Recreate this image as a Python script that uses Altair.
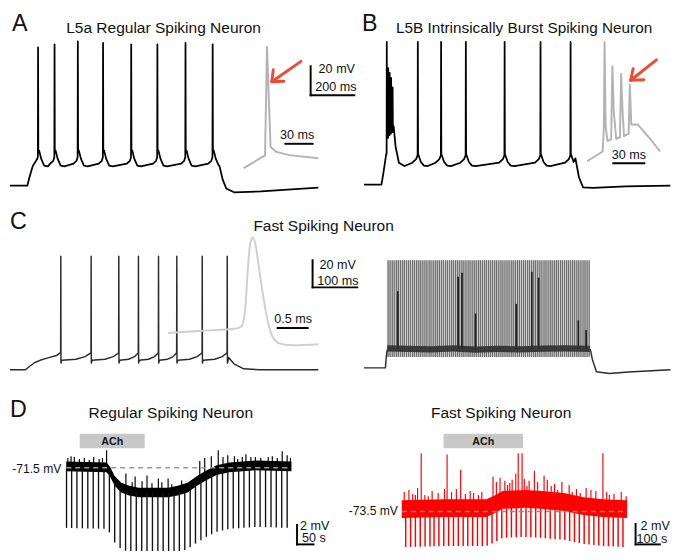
import numpy as np
import pandas as pd
import altair as alt

S = 0.97
FW, FH = 685, 560
W, H = FW * S, FH * S
FONT = "Liberation Sans"

# ================= DATA =================
# ---- A: L5a regular spiking neuron (ms, mV) ----
A_PRE_T = [0, 80, 90, 105, 124]
A_PRE_V = [-70.0, -70.0, -64.0, -56.5, -52.0]
A_SPK_T = [128.9, 204.4, 311.1, 426.7, 555.6, 675.6, 804.4, 928.9]
A_SPK_PEAK = [25.0, 27.0, 29.0, 28.0, 27.0, 27.0, 28.0, 27.0]
A_AFTER_DT = [1.2, 5, 14, 28, 45]
A_AFTER_V = [-47.5, -46.0, -51.5, -56.3, -56.8]
A_BEFORE_DT = [-20, -6, -1]
A_BEFORE_V = [-55.0, -53.0, -50.5]
A_OFF_T = [960, 975, 991, 1027, 1150, 1413]
A_OFF_V = [-56.5, -66.0, -72.0, -74.7, -74.0, -71.5]
A_INSET_T = [0, 22, 24, 27.7, 33.7, 47, 77]
A_INSET_V = [-58.0, -49.3, 25.3, -43.5, -46.9, -49.1, -51.3]

# ---- B: L5B intrinsically bursting neuron (ms, mV) ----
B_ONSET_T = [0, 80, 88, 96, 102]
B_ONSET_V = [-70.0, -70.0, -63.0, -55.0, -49.0]
B_BURST_T = [104.4, 111.1, 117.8, 124.4, 131.1]
B_BURST_PEAK = [28.0, 10.0, 6.7, 3.3, -3.3]
B_BURST_TROUGH = [-38.0, -36.0, -35.0, -34.0, -31.0]
B_POSTBURST_T = [136, 145, 160, 185]
B_POSTBURST_V = [-30.0, -44.0, -55.0, -57.3]
B_SPK_T = [246.7, 353.3, 466.7, 644.4, 808.9, 946.7]
B_SPK_PEAK = [28.0, 28.0, 28.0, 28.0, 28.0, 28.0]
B_AFTER_DT = [1.2, 5, 14, 28, 45]
B_AFTER_V = [-49.0, -50.5, -54.5, -57.0, -57.3]
B_BEFORE_DT = [-25, -8, -1]
B_BEFORE_V = [-55.0, -52.5, -50.0]
B_OFF_T = [968.9, 985, 1004, 1050, 1200, 1404]
B_OFF_V = [-52.0, -65.0, -72.0, -72.3, -71.2, -70.8]
B_INSET_T = [0, 14.2, 15.3, 15.9, 16.9, 18.6, 21.9, 23, 24.3, 26.5, 29.9, 31, 32.3, 33.6,
             37.8, 38.9, 40.2, 46, 57.5, 66.4]
B_INSET_V = [-54.0, -47.3, -30.0, 28.0, -30.0, -40.0, -39.0, 11.3, -20.0, -38.7, -37.5, 6.0,
             -20.0, -36.7, -35.0, -1.3, -28.7, -28.7, -38.7, -47.3]

# ---- C left: fast spiking neuron, near threshold (ms, mV) ----
C_PRE_T = [0, 34.8, 45, 56, 67.4, 85, 104.3, 112.5]
C_PRE_V = [-70.0, -70.0, -67.2, -64.6, -63.0, -61.2, -59.5, -57.5]
C_SPK_T = [114, 182, 244, 288, 333, 374, 431, 487]
C_SPK_PEAK = [13.6, 13.6, 13.6, 13.6, 13.6, 13.6, 13.6, 13.6]
C_AFTER_DT = [0.4, 2.0]
C_AFTER_V = [-65.0, -63.0]
C_RAMP_FRAC = [0.5, 0.8]
C_RAMP_V = [-62.2, -60.3]
C_BEFORE_DT = [-1.5, -0.4]
C_BEFORE_V = [-57.8, -57.3]
C_OFF_T = [490, 502, 524, 561, 691]
C_OFF_V = [-61.0, -65.6, -69.3, -70.0, -70.0]
C_INSET_T = [0, 0.53, 1.035, 1.147, 1.212, 1.247, 1.288, 1.323, 1.364, 1.414,
             1.489, 1.565, 1.641, 1.742, 1.944, 2.348]
C_INSET_V = [-42.9, -41.2, -39.8, -38.1, -21.4, 4.8, 23.8, 27.4, 22.6, 7.1,
             -16.6, -35.7, -46.4, -50.5, -51.9, -51.2]

# ---- C right: fast spiking neuron, strong step (ms, mV) ----
CR_PRE_T = [0, 48, 50, 52]
CR_PRE_V = [-70.0, -70.0, -62.0, -56.5]
CR_SPK_T = [54.0, 58.5, 63.2, 67.6, 72.4, 76.8, 81.5, 86.1, 90.4, 95.2,
            99.8, 104.3, 109.1, 113.5, 118.2, 122.9, 127.3, 132.0, 136.6, 141.1,
            145.9, 150.3, 155.0, 159.7, 164.1, 168.8, 173.4, 177.9, 182.7, 187.1,
            191.8, 196.5, 200.9, 205.6, 210.2, 214.7, 219.5, 223.9, 228.6, 233.3,
            237.7, 242.4, 247.0, 251.5, 256.3, 260.7, 265.4, 270.1, 274.5, 279.2,
            283.8, 288.3, 293.1, 297.5, 302.2, 306.9, 311.3, 316.0, 320.6, 325.1,
            329.9, 334.3, 339.0, 343.7, 348.1, 352.8, 357.4, 361.9, 366.7, 371.1,
            375.8, 380.5, 384.9, 389.6, 394.2, 398.7, 403.5, 407.9, 412.6, 417.3,
            421.7, 426.4, 431.0, 435.5, 440.3, 444.7, 449.4, 454.1, 458.5, 463.2,
            467.8, 472.3, 477.1, 481.5, 486.2, 490.9, 495.3, 500.0, 504.6]
CR_SPK_TOP = 9.3
CR_SPK_BOTTOM = -62.0
CR_BAND_T = [52, 100, 150, 200, 250, 300, 350, 400, 450, 506]
CR_BAND_V = [-55.6, -56.0, -56.3, -55.7, -56.6, -56.0, -56.4, -55.8, -55.6, -56.0]
CR_BAND_HALF = 2.3
CR_DARK_T = [76.1, 210.9, 219.6, 250.0, 341.3, 376.1, 391.3, 480.4, 497.8]
CR_DARK_TOP = [-13.6, -2.9, 0.0, -30.0, -22.9, 0.7, -3.6, -35.0, -42.1]
CR_OFF_T = [507, 512, 521, 550, 593, 665, 687]
CR_OFF_V = [-56.0, -64.0, -72.9, -74.1, -73.0, -71.7, -71.4]

# ---- D left: regular spiking neuron + ACh (s, mV) ----
DL_T = [0, 122, 132, 147, 167, 191, 220, 309, 338, 368, 397, 426, 456, 495, 574, 683]
DL_V = [-71.4, -71.5, -71.9, -72.9, -73.6, -73.9, -74.1, -74.1, -73.9, -73.6,
        -72.9, -72.3, -71.8, -71.5, -71.3, -71.4]
DL_UPPER, DL_LOWER = 0.55, 0.45
DL_PULSE_T = [1, 16.5, 32.5, 49, 65.5, 82, 98, 114.5, 131, 147, 163.5, 180, 196, 212.5,
              229, 245, 261.5, 278, 294, 310.5, 327, 343, 359.5, 376, 392, 408.5, 425,
              441, 457.5, 474, 490, 506.5, 523, 539, 555.5, 572, 588, 604.5, 621, 637,
              653.5, 670]
DL_PULSE_AMP = 6.3
DL_UP_T = [5, 14.7, 24.5, 40, 55, 70, 83.3, 100, 110, 122.5, 181, 200, 209, 230, 245, 260,
           279.4, 290, 309, 320, 350, 405, 420, 440, 461, 475.5, 490, 510, 520, 534, 545,
           560, 573.5, 590, 612.7, 625, 640, 655, 670, 680]
DL_UP_V = [-70.5, -70.3, -70.4, -70.6, -70.5, -70.7, -70.4, -70.6, -70.5, -69.7, -72.1,
           -73.0, -72.4, -72.9, -72.3, -73.1, -72.6, -73.0, -72.6, -73.2, -72.8, -70.8,
           -70.5, -70.3, -69.7, -70.4, -70.2, -70.3, -70.6, -70.4, -70.1, -70.4, -70.4,
           -70.5, -70.4, -70.3, -70.5, -69.8, -70.2, -70.5]
DL_REST = -71.5
DL_ACH = [41, 238]

# ---- D right: fast spiking neuron + ACh (s, mV) ----
DR_T = [0, 176, 349, 376, 416, 509, 576, 669, 749, 829, 929]
DR_V = [-73.3, -73.2, -73.2, -72.9, -72.4, -72.3, -72.4, -72.6, -73.0, -73.2, -73.3]
DR_UPPER, DR_LOWER = 0.9, 0.85
DR_PULSE_T = [16, 36, 56, 76, 96, 116, 133, 153, 173, 193, 213, 233, 253, 272, 292, 312,
              332, 352, 372, 392, 412, 432, 452, 472, 492, 512, 532, 552, 572, 592, 612,
              632, 652, 672, 692, 712, 732, 752, 772, 792, 812, 832, 852, 872, 892, 912]
DR_PULSE_AMP = 3.7
DR_UP_T = [10, 29.3, 45, 56, 65, 80, 95, 109, 125, 150, 176, 186.7, 205, 225, 242.7, 262,
           282, 296, 316, 330, 376, 390, 405, 425, 436, 445.3, 455, 470, 480, 496, 505,
           516, 525, 546.7, 560, 586.7, 600, 616, 630, 642.7, 660, 690, 702.7, 720, 736,
           760, 780, 800, 829.3, 845, 856, 875, 905, 925.3]
DR_UP_V = [-71.6, -71.4, -71.8, -71.9, -71.2, -67.8, -71.9, -72.0, -71.5, -71.7, -71.3,
           -67.9, -71.6, -71.3, -69.4, -71.8, -71.5, -71.7, -71.9, -71.6, -70.1, -70.6,
           -70.2, -70.5, -70.9, -70.7, -70.4, -69.8, -67.8, -67.8, -70.3, -71.0, -70.5,
           -69.5, -70.6, -70.0, -70.4, -71.0, -70.8, -71.4, -70.6, -70.9, -71.6, -71.3,
           -71.7, -71.2, -71.4, -71.5, -67.8, -71.6, -71.9, -71.8, -71.6, -72.0]
DR_REST = -73.5
DR_ACH = [172, 500]


# ================= helpers =================
class Frame:
    """Linear placement of a trace: px0 = where t=0 sits, ppx px per unit, etc."""
    def __init__(self, px0, ppx, py0, v0, ppy):
        self.px0, self.ppx, self.py0, self.v0, self.ppy = px0, ppx, py0, v0, ppy

    def t(self, px):
        return (px - self.px0) / self.ppx

    def v(self, py):
        return self.v0 + (self.py0 - py) / self.ppy

    def X(self, f="t"):
        return alt.X(f"{f}:Q", axis=None,
                     scale=alt.Scale(domain=[self.t(0), self.t(FW)], nice=False, zero=False))

    def Y(self, f="v"):
        return alt.Y(f"{f}:Q", axis=None,
                     scale=alt.Scale(domain=[self.v(FH), self.v(0)], nice=False, zero=False))


def line(fr, t, v, color, width, interp="linear"):
    df = pd.DataFrame({"t": list(t), "v": list(v), "i": list(range(len(t)))})
    return alt.Chart(df).mark_line(color=color, strokeWidth=width * S, interpolate=interp,
                                   strokeJoin="round").encode(
        x=fr.X(), y=fr.Y(), order="i:Q")


def segs(fr, rows, color, width, dash=None, cap="butt"):
    df = pd.DataFrame(rows, columns=["t", "v", "t2", "v2"])
    kw = dict(color=color, strokeWidth=width * S, strokeCap=cap)
    if dash:
        kw["strokeDash"] = dash
    return alt.Chart(df).mark_rule(**kw).encode(x=fr.X(), y=fr.Y(), x2="t2:Q", y2="v2:Q")


def vrules(fr, t, lo, hi, color, width, opacity=1.0):
    df = pd.DataFrame({"t": list(t), "v": list(lo), "v2": list(hi)})
    return alt.Chart(df).mark_rule(color=color, strokeWidth=width * S, opacity=opacity).encode(
        x=fr.X(), y=fr.Y(), y2="v2:Q")


def band(fr, t, lo, hi, color, opacity=1.0):
    df = pd.DataFrame({"t": list(t), "v": list(lo), "v2": list(hi)})
    return alt.Chart(df).mark_area(color=color, opacity=opacity).encode(
        x=fr.X(), y=fr.Y(), y2="v2:Q")


def scalebar(fr, px, py, dv, dt, width=2.0):
    t0, v0 = fr.t(px), fr.v(py)
    return segs(fr, [[t0, v0, t0, v0 + dv], [t0 - 0.001, v0, t0 + dt, v0]], "#000000", width,
                cap="square")


def hbar(fr, px, py, dt, width=2.0):
    t0, v0 = fr.t(px), fr.v(py)
    return segs(fr, [[t0, v0, t0 + dt, v0]], "#000000", width)


def arrow(fr, tail, tip, w1, w2):
    rows = []
    for p in (tail, w1, w2):
        rows.append([fr.t(p[0]), fr.v(p[1]), fr.t(tip[0]), fr.v(tip[1])])
    return segs(fr, rows, "#ee4b36", 3.0, cap="round")


ONE = pd.DataFrame({"k": [0]})


def txt(s, x, y, size, align="left", weight="normal", color="#111111", baseline="alphabetic"):
    return alt.Chart(ONE).mark_text(text=s, font=FONT, fontSize=size * S, align=align,
                                    baseline=baseline, fontWeight=weight, color=color).encode(
        x=alt.value(float(x * S)), y=alt.value(float(y * S)))


def trace(pre_t, pre_v, spk_t, spk_peak, after_dt, after_v, before_dt, before_v,
          off_t, off_v, ramp_frac=(), ramp_v=()):
    t, v = list(pre_t), list(pre_v)
    n = len(spk_t)
    for i, (ts, pk) in enumerate(zip(spk_t, spk_peak)):
        for dt, lv in zip(before_dt, before_v):
            if ts + dt > t[-1]:
                t.append(ts + dt); v.append(lv)
        t.append(ts); v.append(pk)
        nxt = spk_t[i + 1] + before_dt[0] if i + 1 < n else off_t[0]
        for dt, lv in zip(after_dt, after_v):
            if ts + dt < nxt:
                t.append(ts + dt); v.append(lv)
        if i + 1 < n:
            isi = spk_t[i + 1] - ts
            for fr_, lv in zip(ramp_frac, ramp_v):
                tt = ts + fr_ * isi
                if t[-1] < tt < nxt:
                    t.append(tt); v.append(lv)
    t += list(off_t); v += list(off_v)
    return t, v


# ================= frames (layout) =================
FA = Frame(2, 0.225, 183, -70, 1.5)
FA_IN = Frame(243, 1.0, 183, -70, 1.5)
FB = Frame(367, 0.225, 182, -70, 1.5)
FB_IN = Frame(597, 34 / 30, 182, -70, 1.5)
FC = Frame(2, 0.46, 373, -70, 1.4)
FC_IN = Frame(165, 66, 373, -70, 1.4)
FCR = Frame(367, 0.46, 371, -70, 1.4)
FDL = Frame(60, 0.34, 474, DL_REST, 10)
FDR = Frame(406, 0.25, 519, DR_REST, 10.5)

layers = []

# ---- A ----
at, av = trace(A_PRE_T, A_PRE_V, A_SPK_T, A_SPK_PEAK, A_AFTER_DT, A_AFTER_V,
               A_BEFORE_DT, A_BEFORE_V, A_OFF_T, A_OFF_V)
layers.append(alt.layer(line(FA, at, av, "#000000", 1.8), scalebar(FA, 312, 90, 20, 200)))
layers.append(alt.layer(line(FA_IN, A_INSET_T, A_INSET_V, "#b3b3b3", 2.0),
                        hbar(FA_IN, 285, 140, 30),
                        arrow(FA_IN, (302, 55), (272, 76), (273.5, 63.5), (284.5, 75.5))))

# ---- B ----
bt, bv = list(B_ONSET_T), list(B_ONSET_V)
prev = B_ONSET_V[-1]
for ts, pk, tr in zip(B_BURST_T, B_BURST_PEAK, B_BURST_TROUGH):
    bt += [ts - 0.7, ts, ts + 1.3]
    bv += [prev, pk, tr]
    prev = tr
bt += B_POSTBURST_T
bv += B_POSTBURST_V
bt, bv = trace(bt, bv, B_SPK_T, B_SPK_PEAK, B_AFTER_DT, B_AFTER_V,
               B_BEFORE_DT, B_BEFORE_V, B_OFF_T, B_OFF_V)
layers.append(line(FB, bt, bv, "#000000", 1.8))
layers.append(alt.layer(line(FB_IN, B_INSET_T, B_INSET_V, "#b3b3b3", 2.0),
                        hbar(FB_IN, 623, 160, 30),
                        arrow(FB_IN, (668.5, 53.5), (642, 74.5), (644.5, 62.5), (655.5, 74))))

# ---- C left ----
ct, cv = trace(C_PRE_T, C_PRE_V, C_SPK_T, C_SPK_PEAK, C_AFTER_DT, C_AFTER_V,
               C_BEFORE_DT, C_BEFORE_V, C_OFF_T, C_OFF_V, C_RAMP_FRAC, C_RAMP_V)
layers.append(alt.layer(line(FC, ct, cv, "#2b2b2b", 1.5), scalebar(FC, 314, 288, 20, 100)))
layers.append(alt.layer(line(FC_IN, C_INSET_T, C_INSET_V, "#cfcfcf", 2.0, "monotone"),
                        hbar(FC_IN, 277, 330, 0.5)))

# ---- C right ----
band_c = np.array(CR_BAND_V)
layers.append(alt.layer(
    vrules(FCR, CR_SPK_T, [CR_SPK_BOTTOM] * len(CR_SPK_T), [CR_SPK_TOP] * len(CR_SPK_T),
           "#6e6e6e", 1.5),
    vrules(FCR, CR_DARK_T, [-56.0] * len(CR_DARK_T), CR_DARK_TOP, "#222222", 1.8),
    band(FCR, CR_BAND_T, band_c - CR_BAND_HALF, band_c + CR_BAND_HALF, "#2e2e2e", 0.9),
    line(FCR, CR_PRE_T, CR_PRE_V, "#2b2b2b", 1.5),
    line(FCR, CR_OFF_T, CR_OFF_V, "#2b2b2b", 1.5),
))

# ---- D left ----
dlc = np.array(DL_V)
dl_ptop = np.interp(DL_PULSE_T, DL_T, DL_V)
dl_utop = np.interp(DL_UP_T, DL_T, DL_V)
ach_l = pd.DataFrame({"t": [DL_ACH[0]], "t2": [DL_ACH[1]], "v": [FDL.v(454)], "v2": [FDL.v(439)]})
ach_lt = pd.DataFrame({"t": [sum(DL_ACH) / 2], "v": [FDL.v(447)]})
layers.append(alt.layer(
    band(FDL, DL_T, dlc - DL_LOWER, dlc + DL_UPPER, "#000000"),
    vrules(FDL, DL_PULSE_T, dl_ptop - DL_PULSE_AMP, dl_ptop, "#111111", 1.4),
    vrules(FDL, DL_UP_T, dl_utop, DL_UP_V, "#000000", 1.2),
    segs(FDL, [[0, DL_REST, DL_T[-1], DL_REST]], "#9a9a9a", 1.6, dash=[5, 4]),
    alt.Chart(ach_l).mark_rect(color="#c8c8c8").encode(x=FDL.X(), x2="t2:Q", y=FDL.Y(), y2="v2:Q"),
    alt.Chart(ach_lt).mark_text(text="ACh", font=FONT, fontSize=11 * S, fontWeight="bold",
                                baseline="middle", color="#111111").encode(x=FDL.X(), y=FDL.Y()),
    scalebar(FDL, 298, 553, 2, 50),
))

# ---- D right ----
drc = np.array(DR_V)
dr_ptop = np.interp(DR_PULSE_T, DR_T, DR_V)
dr_utop = np.interp(DR_UP_T, DR_T, DR_V)
ach_r = pd.DataFrame({"t": [DR_ACH[0]], "t2": [DR_ACH[1]], "v": [FDR.v(454)], "v2": [FDR.v(439)]})
ach_rt = pd.DataFrame({"t": [sum(DR_ACH) / 2], "v": [FDR.v(447)]})
layers.append(alt.layer(
    band(FDR, DR_T, drc - DR_LOWER, drc + DR_UPPER, "#ff0000"),
    vrules(FDR, DR_PULSE_T, dr_ptop - DR_PULSE_AMP, dr_ptop, "#ff0000", 1.5),
    vrules(FDR, DR_UP_T, dr_utop, DR_UP_V, "#ff0000", 1.2),
    segs(FDR, [[0, DR_REST, DR_T[-1], DR_REST]], "#8a8a8a", 1.6, dash=[5, 4]),
    alt.Chart(ach_r).mark_rect(color="#c8c8c8").encode(x=FDR.X(), x2="t2:Q", y=FDR.Y(), y2="v2:Q"),
    alt.Chart(ach_rt).mark_text(text="ACh", font=FONT, fontSize=11 * S, fontWeight="bold",
                                baseline="middle", color="#111111").encode(x=FDR.X(), y=FDR.Y()),
    scalebar(FDR, 647, 553, 2, 100),
))

# ---- texts ----
layers += [
    txt("A", 4, 24, 24),
    txt("L5a Regular Spiking Neuron", 60, 26, 16),
    txt("B", 365, 24, 24),
    txt("L5B Intrinsically Burst Spiking Neuron", 400, 26, 15.8),
    txt("20 mV", 339, 67.5, 13, align="center"),
    txt("200 ms", 338, 86, 13, align="center"),
    txt("30 ms", 298, 135, 13, align="center"),
    txt("30 ms", 640, 156, 13, align="center"),
    txt("C", 2, 228, 24),
    txt("Fast Spiking Neuron", 253, 230, 16),
    txt("20 mV", 340, 269, 13, align="center"),
    txt("100 ms", 340, 286, 13, align="center"),
    txt("0.5 ms", 294, 325, 13, align="center"),
    txt("D", 2, 422, 24),
    txt("Regular Spiking Neuron", 83, 423, 16),
    txt("Fast Spiking Neuron", 436, 423, 16),
    txt("-71.5 mV", 55, 479, 12.5, align="right"),
    txt("-73.5 mV", 402, 523, 12.5, align="right"),
    txt("2 mV", 301, 538, 13),
    txt("50 s", 303, 551, 13),
    txt("2 mV", 652, 538, 13),
    txt("100 s", 648, 552, 13),
]

chart = alt.layer(*layers).resolve_scale(x="independent", y="independent").properties(
    width=W, height=H, padding=0, autosize=alt.AutoSizeParams(type="none")
).configure_view(stroke=None)

chart.save("out.html", embed_options={"renderer": "svg", "actions": False})
